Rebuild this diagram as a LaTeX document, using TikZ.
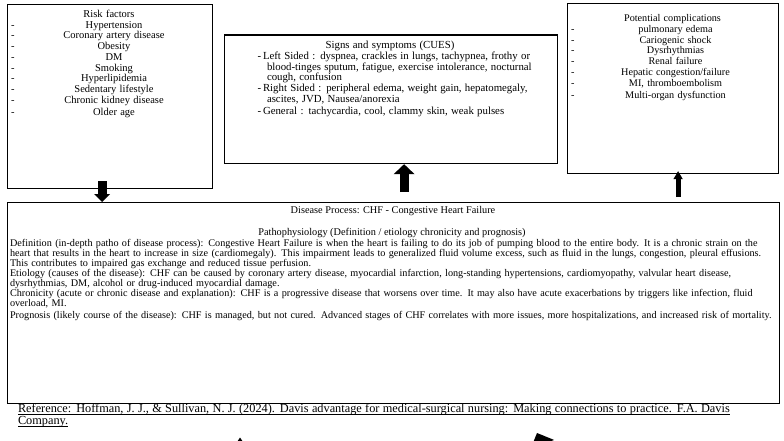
\documentclass[tikz,border=0pt]{standalone}
\usepackage{fontspec}
\setmainfont{Liberation Serif}
\usetikzlibrary{arrows.meta}
\setlength\parindent{0pt}
\newcommand\rfitem[3]{\leavevmode\rlap{\hspace{#1}-}\makebox[\linewidth][c]{\hspace{#2}#3}}
\newcommand\myul[1]{\leavevmode\setbox0\hbox{#1}\rlap{\rule[-2pt]{\wd0}{0.9pt}}\box0}
\newcommand\sdash{\leavevmode\rlap{\hspace{34pt}-}\hspace{39.5pt}}
\begin{document}
\begin{tikzpicture}[x=1pt,y=-1pt,
  box/.style={draw, line width=1.2pt, inner sep=0pt, anchor=north west},
  txt/.style={inner sep=0pt, outer sep=0pt, align=left, anchor=north west},
  blockarrow/.style={line width=#1},
]
\useasboundingbox[fill=white] (0,0) rectangle (784,441);
\clip (0,0) rectangle (784,441);

% boxes
\node[box, minimum width=205pt, minimum height=184pt] (risk) at (6.5,4) {};
\node[box, minimum width=333pt, minimum height=128pt] (signs) at (223.5,34.5) {};
\node[box, minimum width=211pt, minimum height=170pt] (comp) at (567,3) {};
\node[box, minimum width=772.5pt, minimum height=200.5pt] (main) at (6.5,202) {};

% risk factors text
\node[txt, text width=205pt] (risktxt) at (6.5,9.5) {\fontsize{10.5}{10.75}\selectfont
\rule{0pt}{8pt}\makebox[\linewidth][c]{Risk factors}\\
\rfitem{4.5pt}{10pt}{Hypertension}\\
\rfitem{4.5pt}{10pt}{Coronary artery disease}\\
\rfitem{4.5pt}{10pt}{Obesity}\\
\rfitem{4.5pt}{10pt}{DM}\\
\rfitem{4.5pt}{10pt}{Smoking}\\
\rfitem{4.5pt}{10pt}{Hyperlipidemia}\\
\rfitem{4.5pt}{10pt}{Sedentary lifestyle}\\
\rfitem{4.5pt}{10pt}{Chronic kidney disease}\\
\rfitem{4.5pt}{10pt}{Older age}};

% complications text
\node[txt, text width=211pt] (comptxt) at (567,13.5) {\fontsize{10.2}{10.8}\selectfont
\rule{0pt}{8pt}\makebox[\linewidth][c]{Potential complications}\\
\rfitem{4pt}{6pt}{pulmonary edema}\\
\rfitem{4pt}{6pt}{Cariogenic shock}\\
\rfitem{4pt}{6pt}{Dysrhythmias}\\
\rfitem{4pt}{6pt}{Renal failure}\\
\rfitem{4pt}{6pt}{Hepatic congestion/failure}\\
\rfitem{4pt}{6pt}{MI, thromboembolism}\\
\rfitem{4pt}{6pt}{Multi-organ dysfunction}};

% signs text
\node[txt, text width=333pt] (signstxt) at (223.5,40.5) {\fontsize{10.8}{10.8}\selectfont
\rule{0pt}{8pt}\makebox[\linewidth][c]{Signs and symptoms (CUES)}\\
\sdash Left Sided : dyspnea, crackles in lungs, tachypnea, frothy or\\
\hspace*{43.5pt}blood-tinges sputum, fatigue, exercise intolerance, nocturnal\\
\hspace*{43.5pt}cough, confusion\\
\sdash Right Sided : peripheral edema, weight gain, hepatomegaly,\\
\hspace*{43.5pt}ascites, JVD, Nausea/anorexia\\
\sdash General : tachycardia, cool, clammy skin, weak pulses};

% main text
\node[inner sep=0pt, anchor=base] (maintitle) at (393,213.5) {\fontsize{10.3}{10.1}\selectfont Disease Process: CHF - Congestive Heart Failure};
\node[inner sep=0pt, anchor=base] (pathotitle) at (392,235) {\fontsize{10.3}{10.1}\selectfont Pathophysiology (Definition / etiology chronicity and prognosis)};
\node[txt, text width=775pt] (maintxt) at (10,238.3) {\fontsize{10.2}{10.1}\selectfont
\rule{0pt}{8pt}Definition (in-depth patho of disease process): Congestive Heart Failure is when the heart is failing to do its job of pumping blood to the entire body. It is a chronic strain on the\\
heart that results in the heart to increase in size (cardiomegaly). This impairment leads to generalized fluid volume excess, such as fluid in the lungs, congestion, pleural effusions.\\
This contributes to impaired gas exchange and reduced tissue perfusion.\\
Etiology (causes of the disease): CHF can be caused by coronary artery disease, myocardial infarction, long-standing hypertensions, cardiomyopathy, valvular heart disease,\\
dysrhythmias, DM, alcohol or drug-induced myocardial damage.\\
Chronicity (acute or chronic disease and explanation): CHF is a progressive disease that worsens over time. It may also have acute exacerbations by triggers like infection, fluid\\
overload, MI.\\
Prognosis (likely course of the disease): CHF is managed, but not cured. Advanced stages of CHF correlates with more issues, more hospitalizations, and increased risk of mortality.};

% reference
\node[txt, text width=770pt] (ref) at (18,404) {\fontsize{12.3}{14.5}\selectfont
\rule{0pt}{8pt}\myul{Reference: Hoffman, J. J., \& Sullivan, N. J. (2024). Davis advantage for medical-surgical nursing: Making connections to practice. F.A. Davis}\\
\myul{Company.}};

% connectors
\draw[blockarrow=9pt, -{Triangle[width=16pt,length=8pt,line width=0pt]}]
  ([xshift=-7.5pt,yshift=8pt]risk.south) -- ([xshift=-7.5pt]risk.south |- main.north);
\draw[blockarrow=9pt, -{Triangle[width=21pt,length=10pt,line width=0pt]}]
  ([xshift=13.5pt,yshift=10pt]signs.south |- main.north) -- ([xshift=13.5pt,yshift=-0.5pt]signs.south);
\draw[blockarrow=5pt, -{Triangle[width=9.5pt,length=8pt,line width=0pt]}]
  ([xshift=5pt,yshift=5pt]comp.south |- main.north) -- ([xshift=5pt,yshift=3pt]comp.south);

% partially visible arrows below the picture
\coordinate (low1) at (240,480);
\coordinate (low2) at (556,478);
\coordinate (tip1) at (240,437.5);
\coordinate (tip2) at (537,433);
\draw[blockarrow=4pt, -{Triangle[width=12pt,length=9pt,line width=0pt]}] (low1) -- (tip1);
\draw[blockarrow=8pt, -{Triangle[width=26pt,length=13pt,line width=0pt]}] (low2) -- (tip2);
\end{tikzpicture}
\end{document}
